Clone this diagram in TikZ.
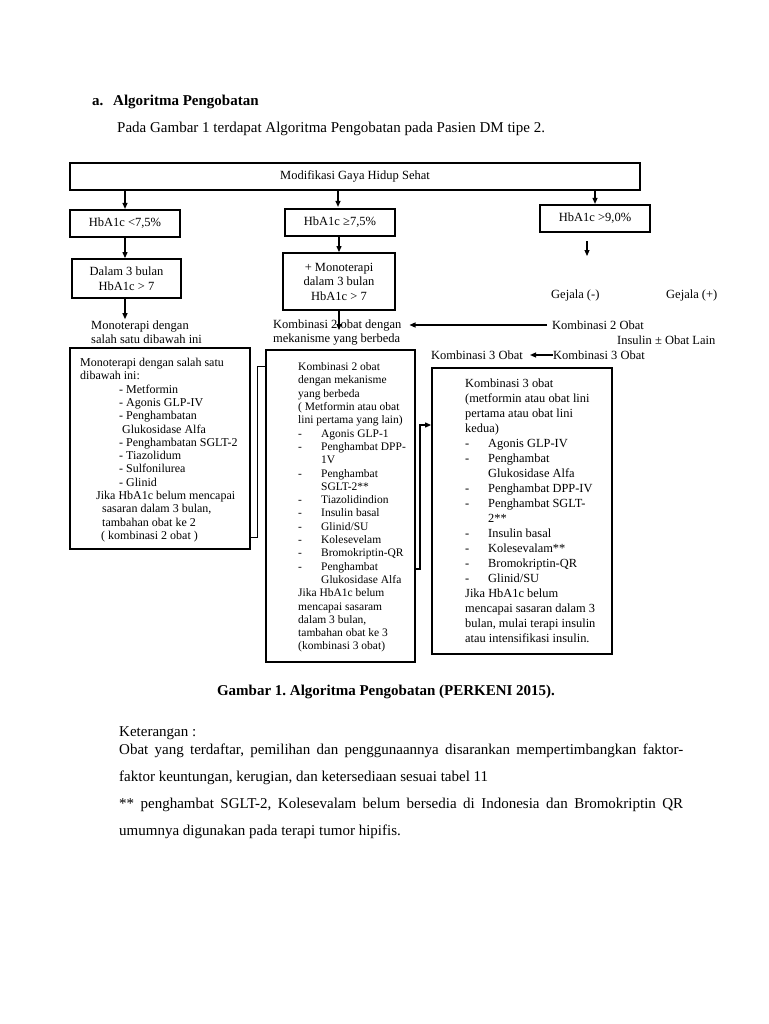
\documentclass[tikz,border=0pt]{standalone}
\usepackage{fontspec}
\setmainfont{Liberation Serif}
\usetikzlibrary{arrows.meta}
\setlength{\parindent}{0pt}
\frenchspacing
\newcommand{\dashitem}[1]{\makebox[23pt][l]{-}#1}
\tikzset{
  box/.style={draw, rectangle, line width=1.8pt, inner sep=0pt, font=\fontsize{12.5}{14.5}\selectfont, align=center},
  lbl/.style={inner sep=0pt, font=\fontsize{12.5}{14.5}\selectfont, align=left},
  body/.style={inner sep=0pt, font=\fontsize{15}{18}\selectfont},
  arr/.style={-{Triangle[length=6pt,width=5pt]}, line width=1.1pt},
}
\begin{document}
\begin{tikzpicture}[x=1pt,y=-1pt]
    \fill[white] (0,0) rectangle (768,1024);
    \useasboundingbox (0,0) rectangle (768,1024);

    \node[body, anchor=west, font=\fontsize{15}{18}\selectfont\bfseries] (sub) at (92,102) {a.};
    \node[body, anchor=west, font=\fontsize{15}{18}\selectfont\bfseries] (judul) at (113,102) {Algoritma Pengobatan};
    \node[body, anchor=west] (intro) at (117,129) {Pada Gambar 1 terdapat Algoritma Pengobatan pada Pasien DM tipe 2.};

    \node[box, minimum width=570, minimum height=27] (gaya) at (355,176.5) {Modifikasi Gaya Hidup Sehat};
    \node[box, line width=2.2pt, minimum width=110, minimum height=27] (hb1) at (125,223.5) {HbA1c <7,5\%};
    \node[box, line width=2.2pt, minimum width=110, minimum height=27] (hb2) at (340,222.5) {HbA1c ≥7,5\%};
    \node[box, line width=2.2pt, minimum width=110, minimum height=27] (hb3) at (595,218.5) {HbA1c >9,0\%};
    \node[box, minimum width=109, minimum height=39] (dalam) at (126.5,278.5) {Dalam 3 bulan\\HbA1c > 7};
    \node[box, minimum width=112, minimum height=57] (mono) at (339,281.5) {+ Monoterapi\\dalam 3 bulan\\HbA1c > 7};

    \node[lbl, anchor=west] (gejneg) at (551,295) {Gejala (-)};
    \node[lbl, anchor=west] (gejpos) at (666,295) {Gejala (+)};
    \node[lbl, anchor=west] (monolbl) at (91,332) {Monoterapi dengan\\salah satu dibawah ini};
    \node[lbl, anchor=west] (komb2a) at (273,332.5) {Kombinasi 2 obat dengan\\mekanisme yang berbeda};
    \node[lbl, anchor=west] (komb2b) at (552,325) {Kombinasi 2 Obat};
    \node[lbl, anchor=west] (insulin) at (617,340) {Insulin ± Obat Lain};
    \node[lbl, anchor=west] (komb3a) at (431,355) {Kombinasi 3 Obat};
    \node[lbl, anchor=west] (komb3b) at (553,355) {Kombinasi 3 Obat};
    \coordinate (gj) at (587,256);
    \coordinate (k2tip) at (339,330);

    \node[box, minimum width=180, minimum height=201] (box1) at (160,448.5) {};
    \node[box, line width=1.3pt, minimum width=149, minimum height=312] (box2) at (340.5,506) {};
    \node[box, minimum width=180, minimum height=286] (box3) at (522,511) {};

    \node[lbl, anchor=north west, font=\fontsize{12}{13.3}\selectfont] (teks1) at (80,358) {Monoterapi dengan salah satu\\
dibawah ini:\\
\hspace*{39pt}- Metformin\\
\hspace*{39pt}- Agonis GLP-IV\\
\hspace*{39pt}- Penghambatan\\
\hspace*{42pt}Glukosidase Alfa\\
\hspace*{39pt}- Penghambatan SGLT-2\\
\hspace*{39pt}- Tiazolidum\\
\hspace*{39pt}- Sulfonilurea\\
\hspace*{39pt}- Glinid\\
\hspace*{16pt}Jika HbA1c belum mencapai\\
\hspace*{22pt}sasaran dalam 3 bulan,\\
\hspace*{22pt}tambahan obat ke 2\\
\hspace*{21pt}( kombinasi 2 obat )};

    \node[lbl, anchor=north west, font=\fontsize{11.5}{13.3}\selectfont] (teks2) at (298,362.5) {Kombinasi 2 obat\\
dengan mekanisme\\
yang berbeda\\
( Metformin atau obat\\
lini pertama yang lain)\\
\dashitem{Agonis GLP-1}\\
\dashitem{Penghambat DPP-}\\
\hspace*{23pt}1V\\
\dashitem{Penghambat}\\
\hspace*{23pt}SGLT-2**\\
\dashitem{Tiazolidindion}\\
\dashitem{Insulin basal}\\
\dashitem{Glinid/SU}\\
\dashitem{Kolesevelam}\\
\dashitem{Bromokriptin-QR}\\
\dashitem{Penghambat}\\
\hspace*{23pt}Glukosidase Alfa\\
Jika HbA1c belum\\
mencapai sasaram\\
dalam 3 bulan,\\
tambahan obat ke 3\\
(kombinasi 3 obat)};

    \node[lbl, anchor=north west, font=\fontsize{12.4}{15}\selectfont] (teks3) at (465,378.5) {Kombinasi 3 obat\\
(metformin atau obat lini\\
pertama atau obat lini\\
kedua)\\
\dashitem{Agonis GLP-IV}\\
\dashitem{Penghambat}\\
\hspace*{23pt}Glukosidase Alfa\\
\dashitem{Penghambat DPP-IV}\\
\dashitem{Penghambat SGLT-}\\
\hspace*{23pt}2**\\
\dashitem{Insulin basal}\\
\dashitem{Kolesevalam**}\\
\dashitem{Bromokriptin-QR}\\
\dashitem{Glinid/SU}\\
Jika HbA1c belum\\
mencapai sasaran dalam 3\\
bulan, mulai terapi insulin\\
atau intensifikasi insulin.};

    \coordinate (b12a) at (257,537);
    \coordinate (b12b) at (257,366);
    \coordinate (b23a) at (420,569);
    \coordinate (b23b) at (420,425);

    \draw[arr] (gaya.south -| hb1) -- (hb1.north);
    \draw[arr] (gaya.south -| 338,0) -- ([yshift=1pt]hb2.north -| 338,0);
    \draw[arr] (gaya.south -| hb3) -- (hb3.north);
    \draw[arr] (hb1.south) -- (hb1.south |- dalam.north);
    \draw[arr] (hb2.south -| mono) -- (mono.north);
    \draw[arr] ([yshift=-8pt]hb3.south -| gj) -- (gj);
    \draw[arr] (dalam.south -| hb1) -- ([yshift=1pt]monolbl.north -| hb1);
    \draw[arr] (mono.south) -- (k2tip);
    \draw[arr] ([xshift=-5pt]komb2b.west) -- ([xshift=8pt]komb2a.east |- komb2b.west);
    \draw[arr] (komb3b.west) -- ([xshift=7pt]komb3a.east);

    \draw[line width=1pt] (b12a -| box1.east) -- (b12a) -- (b12b) -- (b12b -| box2.west);
    \draw[arr] (b23a -| box2.east) -- (b23a) -- (b23b) -- (b23b -| box3.west);

    \node[body, font=\fontsize{15}{18}\selectfont\bfseries] (caption) at (386,692) {Gambar 1. Algoritma Pengobatan (PERKENI 2015).};
    \node[body, anchor=west] (ket) at (119,733) {Keterangan :};
    \node[body, anchor=north west, text width=564pt, align=justify, font=\fontsize{15}{26.8}\selectfont] (catatan) at (119,744) {Obat yang terdaftar, pemilihan dan penggunaannya disarankan mempertimbangkan faktor-\linebreak faktor keuntungan, kerugian, dan ketersediaan sesuai tabel 11\par
** penghambat SGLT-2, Kolesevalam belum bersedia di Indonesia dan Bromokriptin QR\linebreak umumnya digunakan pada terapi tumor hipifis.};
\end{tikzpicture}
\end{document}
